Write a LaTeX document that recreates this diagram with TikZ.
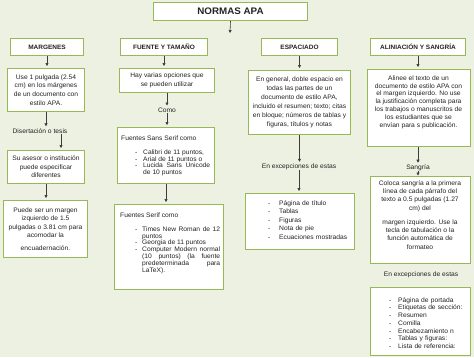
\documentclass[tikz,border=0pt]{standalone}
\usepackage{fontspec}
\setmainfont[FakeStretch=1.03]{Liberation Sans}
\usetikzlibrary{arrows.meta}
\definecolor{bg}{RGB}{237,241,226}
\definecolor{bgreen}{RGB}{150,185,85}
\definecolor{ink}{RGB}{35,35,35}
\definecolor{arrowc}{RGB}{60,60,60}
\hyphenpenalty=10000
\exhyphenpenalty=10000
\newcommand\litem[3]{\par{\leftskip=#1\hangindent=#2\hangafter=1\noindent\makebox[#2][l]{-}#3\par}}
\newcommand\fs[1]{\fontsize{6.5}{#1}\selectfont}
\tikzset{
  box/.style={draw=bgreen, line width=1pt, fill=white, inner xsep=0pt, inner ysep=0pt,
    align=center, anchor=north west, text=ink},
  cat/.style={box, font=\fontsize{6.3}{7}\selectfont\bfseries},
  txt/.style={inner sep=0pt, text=ink, font=\fs{8}},
  arr/.style={draw=arrowc, line width=0.6pt, -{Triangle[length=3pt,width=3pt]}, shorten >=2pt}
}
\begin{document}
\begin{tikzpicture}[x=1pt,y=-1pt]
\fill[bg] (0,0) rectangle (474,357);
\useasboundingbox (0,0) rectangle (474,357);
% title and categories
\node[box, font=\fontsize{9.5}{10}\selectfont\bfseries, minimum width=154pt, minimum height=18pt] (title) at (153,2) {NORMAS APA};
\coordinate (tarr) at (230,33);
\draw[arr, shorten >=0pt] (title.south) -- (tarr);
\node[cat, minimum width=73pt, minimum height=17pt] (cat1) at (10,38) {MARGENES};
\node[cat, minimum width=87pt, minimum height=17pt] (cat2) at (120,38) {FUENTE Y TAMAÑO};
\node[cat, minimum width=76pt, minimum height=17pt] (cat3) at (261,38) {ESPACIADO};
\node[cat, minimum width=95pt, minimum height=17pt] (cat4) at (370,38) {ALINIACIÓN Y SANGRÍA};

% column 1
\node[box, font=\fs{8.7}, minimum width=77pt, minimum height=43pt] (m1) at (7,68)
  {Use 1 pulgada (2.54\\cm) en los márgenes\\de un documento con\\estilo APA.};
\node[txt] (dis) at (40,131) {Disertación o tesis};
\node[box, font=\fs{8.5}, minimum width=77pt, minimum height=33pt] (m2) at (7,150)
  {Su asesor o institución\\puede especificar\\diferentes};
\node[box, font=\fs{8.3}, minimum width=84pt, minimum height=57pt] (m3) at (3,200)
  {Puede ser un margen\\izquierdo de 1.5\\pulgadas o 3.81 cm para\\acomodar la\\[4.5pt]encuadernación.};
\draw[arr] (cat1.south) -- (cat1.south |- m1.north);
\draw[arr] (m1.south) -- (m1.south |- dis.north);
\draw[arr] ([xshift=21pt]dis.south) -- ([xshift=21pt]dis.south |- m2.north);
\draw[arr] (m2.south) -- (m2.south |- m3.north);

% column 2
\node[box, font=\fs{9}, minimum width=95pt, minimum height=24pt] (f1) at (119,68)
  {Hay varias opciones que\\se pueden utilizar};
\node[txt] (como) at (167,110) {Como};
\node[box, minimum width=97pt, minimum height=56pt] (f2) at (117,127) {};
\node[txt, font=\fs{6.9}, anchor=north west, text width=89pt, align=justify] (f2t) at (121,135.3)
  {\noindent Fuentes Sans Serif como\par\vspace{7pt}
   \litem{14pt}{8pt}{Calibri de 11 puntos,}
   \litem{14pt}{8pt}{Arial de 11 puntos o}
   \litem{14pt}{8pt}{Lucida Sans Unicode\linebreak de 10 puntos}};
\node[box, minimum width=109pt, minimum height=85pt] (f3) at (114,204) {};
\node[txt, font=\fs{6.9}, anchor=north west, text width=100pt, align=justify] (f3t) at (120,212.3)
  {\noindent Fuentes Serif como\par\vspace{7pt}
   \litem{15pt}{7pt}{Times New Roman de 12\linebreak puntos}
   \litem{15pt}{7pt}{Georgia de 11 puntos}
   \litem{15pt}{7pt}{Computer Modern normal\linebreak (10 puntos) (la fuente\linebreak predeterminada para\linebreak LaTeX).}};
\draw[arr] (cat2.south) -- (cat2.south |- f1.north);
\draw[arr] (f1.south) -- (f1.south |- como.north);
\draw[arr] (como.south) -- (como.south |- f2.north);
\draw[arr] (f2.south) -- (f2.south |- f3.north);

% column 3
\node[box, font=\fs{9}, minimum width=102pt, minimum height=64pt] (e1) at (248,70)
  {En general, doble espacio en\\todas las partes de un\\documento de estilo APA,\\incluido el resumen; texto; citas\\en bloque; números de tablas y\\figuras, títulos y notas};
\node[txt] (exc1) at (299,167) {En excepciones de estas};
\node[box, minimum width=109pt, minimum height=56pt] (e2) at (245,193) {};
\node[txt, font=\fs{8.5}, anchor=north west, text width=84pt, align=left] (e2t) at (268,196.3)
  {\litem{0pt}{11pt}{Página de título}
   \litem{0pt}{11pt}{Tablas}
   \litem{0pt}{11pt}{Figuras}
   \litem{0pt}{11pt}{Nota de pie}
   \litem{0pt}{11pt}{Ecuaciones mostradas}};
\draw[arr] (cat3.south -| e1.north) -- (e1.north);
\draw[arr] (e1.south) -- (e1.south |- exc1.north);
\draw[arr] (exc1.south) -- (exc1.south |- e2.north);

% column 4
\node[box, minimum width=103pt, minimum height=77pt] (a1) at (367,69) {};
\node[txt, font=\fs{7.8}, anchor=north, align=center] (a1t) at (418.5,75.3)
  {Alinee el texto de un\\documento de estilo APA con\\el margen izquierdo. No use\\la justificación completa para\\los trabajos o manuscritos de\\los estudiantes que se\\envían para s publicación.};
\node[txt] (sang) at (418,168) {Sangría};
\node[box, minimum width=100pt, minimum height=87pt] (a2) at (370,176) {};
\node[txt, font=\fs{8.3}, anchor=north, align=center] (a2t) at (420,180.3)
  {Coloca sangría a la primera\\línea de cada párrafo del\\texto a 0.5 pulgadas (1.27\\cm) del\\[5.7pt]margen izquierdo. Use la\\tecla de tabulación o la\\función automática de\\formateo};
\node[txt] (exc2) at (421,275) {En excepciones de estas};
\node[box, minimum width=100pt, minimum height=68pt] (a3) at (370,287) {};
\node[txt, font=\fs{7.7}, anchor=north west, text width=80pt, align=left] (a3t) at (389,294.3)
  {\litem{0pt}{9pt}{Página de portada}
   \litem{0pt}{9pt}{Etiquetas de sección:}
   \litem{0pt}{9pt}{Resumen}
   \litem{0pt}{9pt}{Comilla}
   \litem{0pt}{9pt}{Encabezamiento n}
   \litem{0pt}{9pt}{Tablas y figuras:}
   \litem{0pt}{9pt}{Lista de referencia:}};
\draw[arr] (cat4.south -| sang.north) -- (sang.north |- a1.north);
\draw[arr] (a1.south -| sang.north) -- (sang.north);
\draw[arr, shorten >=0.5pt] (sang.south) -- (sang.south |- a2.north);
\end{tikzpicture}
\end{document}
